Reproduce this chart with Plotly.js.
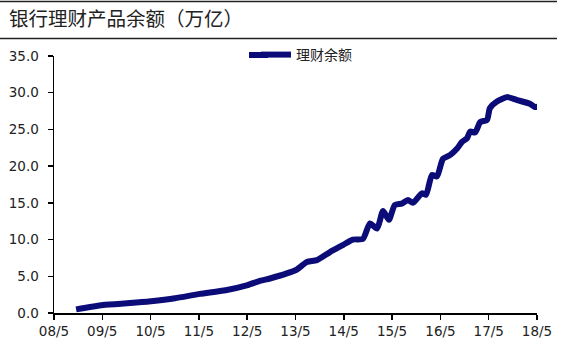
<!DOCTYPE html>
<html>
<head>
<meta charset="utf-8">
<script src="https://cdn.plot.ly/plotly-3.0.1.min.js"></script>
<style>html,body{margin:0;padding:0;background:#fff;}#chart{width:562px;height:343px;}</style>
</head>
<body>
<div id="chart"></div>
<script>
var dates = ["2008-10-15","2009-05-06","2009-11-27","2010-05-04","2010-11-02","2011-05-09","2011-11-20","2012-05-04","2012-08-10","2012-10-20","2013-05-04","2013-07-26","2013-10-10","2014-01-17","2014-04-24","2014-07-09","2014-09-23","2014-11-15","2015-01-08","2015-02-22","2015-04-07","2015-05-22","2015-07-14","2015-08-29","2015-10-06","2015-12-13","2016-01-13","2016-02-27","2016-04-05","2016-05-20","2016-07-12","2016-09-04","2016-10-11","2016-11-18","2016-12-11","2017-01-19","2017-02-26","2017-04-18","2017-05-10","2017-07-02","2017-09-17","2017-12-01","2018-03-08","2018-04-15","2018-05-08"];
var balance = [0.5,1.1,1.35,1.6,2.0,2.6,3.1,3.8,4.4,4.7,5.85,6.95,7.2,8.3,9.25,10.0,10.1,12.2,11.5,13.9,12.7,14.7,14.9,15.4,15.0,16.3,16.1,18.8,18.6,21.0,21.5,22.4,23.3,23.8,24.7,24.6,26.0,26.3,27.9,28.8,29.4,29.0,28.5,28.05,28.1];
var seriesName = "理财余额";
var chartTitle = "银行理财产品余额（万亿）";
var xTickVals = ["2008-05-01","2009-05-01","2010-05-01","2011-05-01","2012-05-01","2013-05-01","2014-05-01","2015-05-01","2016-05-01","2017-05-01","2018-05-01"];
var xTickText = ["08/5","09/5","10/5","11/5","12/5","13/5","14/5","15/5","16/5","17/5","18/5"];

var W = 562, H = 343, L = 54, R = 25, T = 56, B = 30;
var pw = W - L - R, ph = H - T - B;
function px(x){ return (x - L) / pw; }
function py(y){ return (H - B - y) / ph; }
var lineColor = "#0c0c78";

var trace = {
  x: dates, y: balance, type: "scatter", mode: "lines", name: seriesName,
  line: {color: lineColor, width: 6, shape: "spline", smoothing: 0.6}
};

var tickFont = {family: "'DejaVu Sans', sans-serif", size: 13.5, color: "#222"};

var layout = {
  width: W, height: H,
  margin: {l: L, r: R, t: T, b: B},
  paper_bgcolor: "#fff", plot_bgcolor: "#fff",
  font: {family: "'DejaVu Sans', sans-serif", color: "#222", size: 12},
  title: {text: chartTitle, x: 9 / W, xref: "container", xanchor: "left",
          y: 1 - 19 / H, yref: "container", yanchor: "middle",
          font: {family: "'Noto Sans CJK SC', sans-serif", size: 19.5, color: "#222"}},
  showlegend: true,
  legend: {x: px(256), y: py(55), xanchor: "left", yanchor: "middle",
           bgcolor: "rgba(0,0,0,0)", font: {family: "'Noto Sans CJK SC', serif", size: 14, color: "#222"}},
  xaxis: {type: "date", range: ["2008-05-01", "2018-05-01"], tickvals: xTickVals, ticktext: xTickText,
          showgrid: false, zeroline: false, showline: true, linecolor: "#000", linewidth: 1.5,
          ticks: "outside", ticklen: 5, tickcolor: "#000", tickwidth: 1.5,
          tickfont: tickFont, fixedrange: true},
  yaxis: {range: [0, 35], dtick: 5, tick0: 0, tickformat: ".1f",
          showgrid: false, zeroline: false, showline: true, linecolor: "#000", linewidth: 1.5,
          ticks: "outside", ticklen: 5, tickcolor: "#000", tickwidth: 1.5, ticklabelstandoff: 6,
          tickfont: tickFont, fixedrange: true},
  shapes: [
    {type: "line", xref: "paper", yref: "paper", x0: px(0), x1: px(557), y0: py(1.5), y1: py(1.5), line: {color: "#222", width: 1.5}},
    {type: "line", xref: "paper", yref: "paper", x0: px(0), x1: px(557), y0: py(38.5), y1: py(38.5), line: {color: "#222", width: 1.5}},
    {type: "line", xref: "paper", yref: "paper", x0: px(249), x1: px(268), y0: py(55), y1: py(55), line: {color: lineColor, width: 6}}
  ]
};

Plotly.newPlot("chart", [trace], layout, {displayModeBar: false, staticPlot: true});
</script>
</body>
</html>
